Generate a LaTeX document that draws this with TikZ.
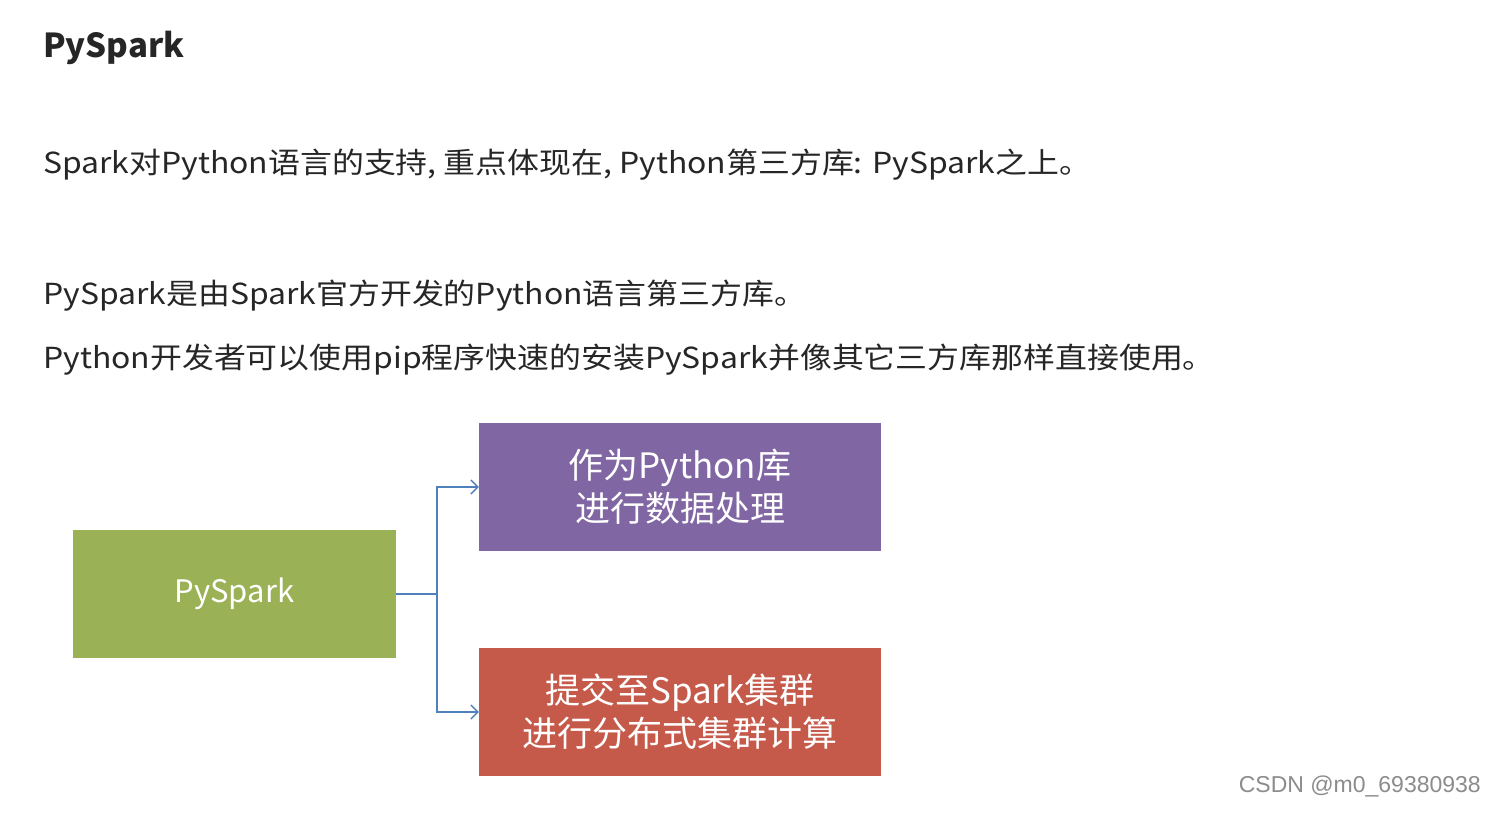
\documentclass[tikz,border=0pt]{standalone}
\usepackage{fontspec}
\usetikzlibrary{arrows.meta}
\setmainfont{Noto Sans CJK SC}
\newfontfamily\wm{Liberation Sans}
\definecolor{gbox}{HTML}{9BB155}
\definecolor{pbox}{HTML}{8066A3}
\definecolor{rbox}{HTML}{C65A4A}
\definecolor{arr}{HTML}{4F81BD}
\begin{document}
\begin{tikzpicture}[x=1pt,y=-1pt,
  box/.style={draw=none,minimum width=402pt,minimum height=128pt,text=white,font=\fontsize{35}{43}\selectfont,align=center,inner sep=0pt},
  line/.style={text=black!85,anchor=west,font=\fontsize{29}{32}\selectfont,inner sep=0pt,xscale=1.1},
  conn/.style={draw=arr,line width=1.4pt,-{Straight Barb[length=7pt,width=14pt]}}]
\useasboundingbox[fill=white] (0,0) rectangle (1485,812);
\node[line,xscale=1/1.1,font=\fontsize{33}{34}\selectfont\bfseries] (t) at (43,48) {PySpark};
\node[line] (l1) at (43,165) {Spark对Python语言的支持, 重点体现在, Python第三方库: PySpark之上。};
\node[line] (l2) at (43,296) {PySpark是由Spark官方开发的Python语言第三方库。};
\node[line] (l3) at (43,360) {Python开发者可以使用pip程序快速的安装PySpark并像其它三方库那样直接使用。};
\node[box,fill=gbox,minimum width=323pt,font=\fontsize{31}{40}\selectfont] (g) at (234.5,594) {PySpark};
\node[box,fill=pbox] (p) at (680,487) {作为Python库\\进行数据处理};
\node[box,fill=rbox] (r) at (680,712) {提交至Spark集群\\进行分布式集群计算};
\coordinate (j) at (437,594);
\draw[draw=arr,line width=1.4pt] (g.east) -- (j);
\draw[conn] (j) |- (p.west);
\draw[conn] (j) |- (r.west);
\node[anchor=east,text=black!45,font=\wm\fontsize{23}{26}\selectfont,inner sep=0pt] (w) at (1481,786) {CSDN @m0\_69380938};
\end{tikzpicture}
\end{document}
